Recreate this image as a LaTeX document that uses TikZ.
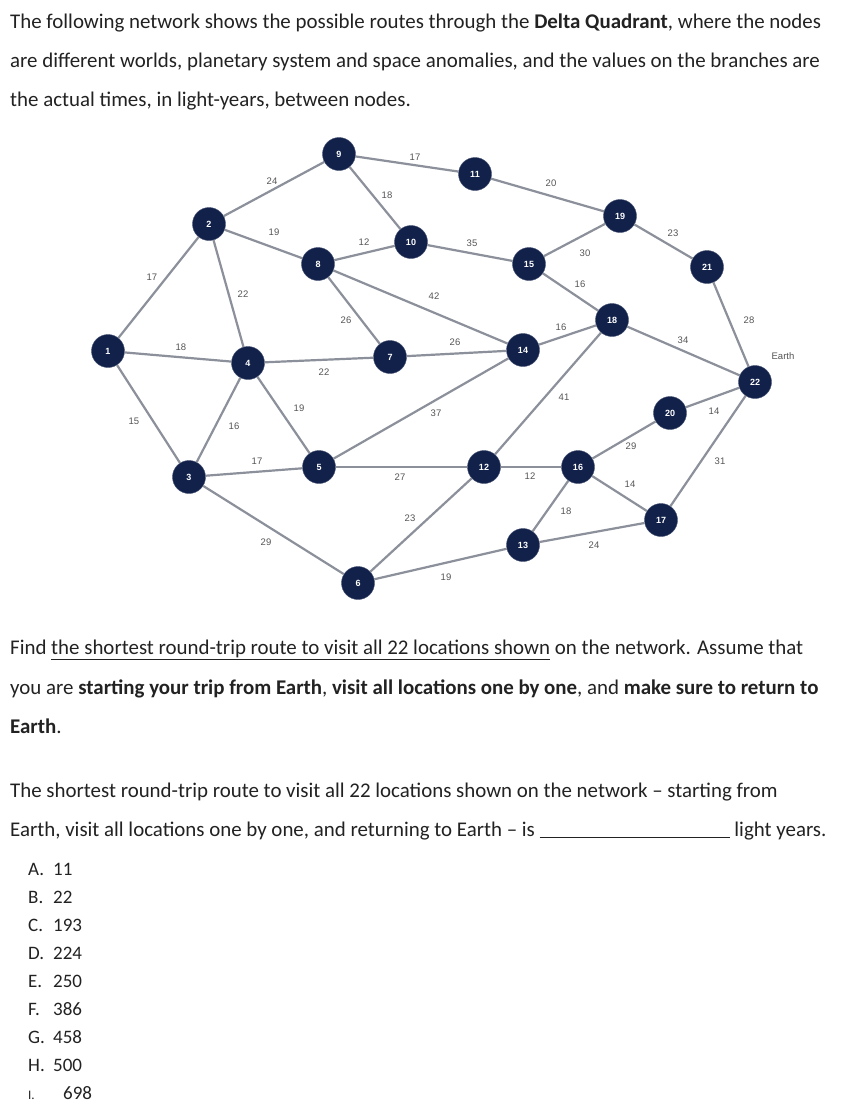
\documentclass[tikz,border=0pt]{standalone}
\usepackage{fontspec}
\setmainfont{Carlito}
\newfontfamily\lab{Liberation Sans}
\definecolor{navy}{HTML}{12214A}
\definecolor{edgegray}{HTML}{8C909A}
\definecolor{labgray}{HTML}{555555}
\definecolor{txt}{HTML}{222222}
\begin{document}
\begin{tikzpicture}[x=1pt,y=-1pt,
  loc/.style={circle,fill=navy,draw=navy!80,minimum size=33pt,inner sep=0pt,text=white,font=\lab\bfseries\fontsize{9}{10}\selectfont},
  edge/.style={draw=edgegray,line width=2.2pt},
  wl/.style={text=labgray,font=\lab\fontsize{9.5}{10}\selectfont,inner sep=0pt},
  para/.style={anchor=base west,inner sep=0pt,text=txt,font=\fontsize{20.9}{22}\selectfont},
  opt/.style={anchor=base west,inner sep=0pt,text=txt,font=\fontsize{19}{20}\selectfont}]
\useasboundingbox (0,0) rectangle (854,1120);
\fill[white] (0,0) rectangle (854,1120);
% text
\node[para] (t1) at (10,28) {The following network shows the possible routes through the \textbf{Delta Quadrant}, where the nodes};
\node[para] (t2) at (10,67) {are different worlds, planetary system and space anomalies, and the values on the branches are};
\node[para] (t3) at (10,106) {the actual times, in light-years, between nodes.};
\node[para] (t4) at (10,654) {Find \underline{the shortest round-trip route to visit all 22 locations shown} on the network. Assume that};
\node[para] (t5) at (10,694) {you are \textbf{starting your trip from Earth}, \textbf{visit all locations one by one}, and \textbf{make sure to return to}};
\node[para] (t6) at (10,733) {\textbf{Earth}.};
\node[para] (t7) at (10,797) {The shortest round-trip route to visit all 22 locations shown on the network -- starting from};
\node[para] (t8) at (10,836) {Earth, visit all locations one by one, and returning to Earth -- is \rule[-2pt]{190pt}{0.8pt} light years.};
\foreach \l/\v [count=\i from 0] in {A./11,B./22,C./193,D./224,E./250,F./386,G./458,H./500} {
  \node[opt] (ol\i) at (28,875+28*\i) {\l};
  \node[opt] (ov\i) at (53,875+28*\i) {\v};
}
\node[opt,font=\fontsize{13}{14}\selectfont] (ol8) at (28,1099) {I.};
\node[opt] (ov8) at (63,1099) {698};
% nodes
\node[loc] (n1) at (108,351) {1};
\node[loc] (n2) at (209,224) {2};
\node[loc] (n3) at (189,477) {3};
\node[loc] (n4) at (248,363) {4};
\node[loc] (n5) at (319,467) {5};
\node[loc] (n6) at (358,583) {6};
\node[loc] (n7) at (390,357) {7};
\node[loc] (n8) at (318,264) {8};
\node[loc] (n9) at (339,154) {9};
\node[loc] (n10) at (411,242) {10};
\node[loc] (n11) at (475,174) {11};
\node[loc] (n12) at (484,467) {12};
\node[loc] (n13) at (523,545) {13};
\node[loc] (n14) at (523,350) {14};
\node[loc] (n15) at (529,264) {15};
\node[loc] (n16) at (578,467) {16};
\node[loc] (n17) at (661,520) {17};
\node[loc] (n18) at (612,320) {18};
\node[loc] (n19) at (620,216) {19};
\node[loc] (n20) at (670,413) {20};
\node[loc] (n21) at (707,267) {21};
\node[loc] (n22) at (755,382) {22};
\node[wl] (earth) at (783,356) {Earth};
% edges
\foreach \a/\b in {1/2,1/4,1/3,2/9,2/8,2/4,9/11,9/10,8/10,8/7,8/14,4/7,4/5,3/4,7/14,5/14,3/5,5/12,3/6,6/12,6/13,11/19,10/15,15/19,19/21,15/18,14/18,18/22,21/22,18/12,20/22,12/16,16/20,22/17,16/17,16/13,13/17}
  \draw[edge] (n\a) -- (n\b);
% weights
\foreach \w/\x/\y [count=\k] in {17/152/277,18/181/347,15/134/421,24/272/181,19/274/232,22/243/294,17/415/157,18/387/195,12/364/242,26/346/320,42/434/296,22/324/372,19/299/408,16/234/426,26/455/342,37/436/413,17/257/461,27/400/477,29/266/542,23/410/518,19/446/577,20/551/183,35/472/243,30/585/253,23/673/233,16/580/284,16/561/327,34/683/340,28/749/320,41/564/397,14/714/411,12/530/476,29/631/446,31/720/461,14/630/484,18/566/511,24/594/545}
  \node[wl] (w\k) at (\x,\y) {\w};
\end{tikzpicture}
\end{document}
